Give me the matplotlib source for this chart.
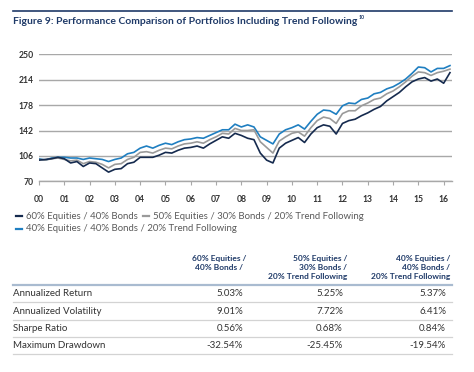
import matplotlib.pyplot as plt
from matplotlib.lines import Line2D

# quarterly points (decimal years)
years = [2000 + q * 0.25 for q in range(66)]

eq60_bd40 = [100, 101, 102, 104, 102, 96, 98, 91, 96, 95, 89, 83,
             87, 88, 95, 97, 104, 104, 104, 107, 111, 110, 114, 117,
             118, 120, 117, 123, 128, 133, 131, 138, 135, 131, 129, 110,
             100, 96, 117, 124, 128, 132, 125, 137, 146, 150, 148, 137,
             152, 156, 158, 163, 167, 172, 176, 184, 190, 196, 204, 211,
             215, 217, 212, 215, 209, 224]
eq50_bd30_tf20 = [101, 100, 102, 103, 101, 99, 100, 95, 98, 97, 94, 89,
                  94, 95, 101, 104, 111, 112, 110, 114, 117, 116, 120, 123,
                  124, 126, 124, 129, 133, 138, 137, 145, 142, 142, 143, 126,
                  118, 110, 127, 133, 138, 140, 134, 146, 156, 161, 159, 152,
                  166, 170, 170, 177, 181, 186, 188, 194, 198, 204, 211, 219,
                  225, 224, 220, 224, 226, 229]
eq40_bd40_tf20 = [102, 100, 103, 104, 104, 103, 103, 101, 103, 102, 101, 98,
                  101, 103, 109, 111, 117, 120, 117, 121, 124, 122, 126, 129,
                  130, 132, 131, 135, 139, 143, 143, 151, 147, 150, 147, 133,
                  128, 123, 137, 143, 146, 150, 144, 155, 165, 171, 170, 165,
                  177, 181, 180, 186, 188, 194, 196, 201, 204, 209, 215, 223,
                  232, 231, 225, 230, 230, 234]

series_names = ['60% Equities / 40% Bonds',
                '50% Equities / 30% Bonds / 20% Trend Following',
                '40% Equities / 40% Bonds / 20% Trend Following']
colors = ['#152a4e', '#9a9a9a', '#1f7fc1']

yticks = [70, 106, 142, 178, 214, 250]
xtick_years = list(range(2000, 2017))
xtick_labels = ['%02d' % (y % 100) for y in xtick_years]

row_labels = ['Annualized Return', 'Annualized Volatility', 'Sharpe Ratio', 'Maximum Drawdown']
col_headers = [['60% Equities /', '40% Bonds /'],
               ['50% Equities /', '30% Bonds /', '20% Trend Following'],
               ['40% Equities /', '40% Bonds /', '20% Trend Following']]
table_values = [['5.03%', '5.25%', '5.37%'],
                ['9.01%', '7.72%', '6.41%'],
                ['0.56%', '0.68%', '0.84%'],
                ['-32.54%', '-25.45%', '-19.54%']]

W, H = 474, 372
navy = '#1f3a68'
txt = '#333333'
plt.rcParams['font.family'] = ['Lato', 'DejaVu Sans']

fig = plt.figure(figsize=(W / 100, H / 100), dpi=100)

def fx(x):
    return x / W

def fy(y):
    return 1 - y / H

# top rule + title
fig.add_artist(Line2D([fx(13), fx(452)], [fy(11), fy(11)], color=navy, lw=1.2))
title = fig.text(fx(13), fy(21), 'Figure 9: Performance Comparison of Portfolios Including Trend Following',
                 color=navy, fontsize=7.5, fontweight='bold', va='center', ha='left')
r = fig.canvas.get_renderer()
bb = title.get_window_extent(renderer=r)
fig.text(bb.x1 / W + fx(1.5), fy(17.5), '10', color=navy, fontsize=3.8, fontweight='bold', va='center')

# chart
ax = fig.add_axes([fx(39), fy(181.3), fx(452) - fx(39), (181.3 - 54.3) / H])
for vals, c in zip([eq40_bd40_tf20, eq50_bd30_tf20, eq60_bd40], colors[::-1]):
    ax.plot(years, vals, color=c, lw=1.2, zorder=3)
ax.set_xlim(2000, 2016.33)
ax.set_ylim(70, 250)
ax.set_yticks(yticks)
ax.set_xticks(xtick_years)
ax.set_xticklabels(xtick_labels)
ax.grid(axis='y', color='#a8a8a8', lw=1)
ax.tick_params(axis='y', length=0, pad=4, labelsize=6.2, labelcolor=txt)
ax.tick_params(axis='x', length=3, width=0.8, color='#a8a8a8', pad=7, labelsize=6.2, labelcolor=txt)
for lab in ax.get_xticklabels() + ax.get_yticklabels():
    lab.set_fontweight('bold')
for s in ['top', 'right', 'left']:
    ax.spines[s].set_visible(False)
ax.spines['bottom'].set_color('#a8a8a8')
ax.spines['bottom'].set_linewidth(1)

# legend (manual)
leg_pos = [(16, 216), (143, 216), (16, 228.7)]
for (lx, ly), name, c in zip(leg_pos, series_names, colors):
    fig.add_artist(Line2D([fx(lx), fx(lx + 6)], [fy(ly), fy(ly)], color=c, lw=1.6))
    fig.text(fx(lx + 10), fy(ly), name, color='#5a5a5a', fontsize=6.9, va='center', ha='left')

# table
col_right = [247, 347, 450]
head_y = [259, 268, 277]
for j, lines in enumerate(col_headers):
    for k, line in enumerate(lines):
        if j == 0:
            fig.text(fx(219), fy(head_y[k]), line, color=navy, fontsize=6, fontweight='bold',
                     ha='center', va='center')
        else:
            fig.text(fx(col_right[j]), fy(head_y[k]), line, color=navy, fontsize=6, fontweight='bold',
                     ha='right', va='center')
fig.add_artist(Line2D([fx(13), fx(452)], [fy(285), fy(285)], color='#a9bbd0', lw=1.6))
row_y = [294, 311.7, 328.3, 345.3]
line_y = [302.3, 319.7, 336.7, 353.7]
for i, lab in enumerate(row_labels):
    fig.text(fx(13), fy(row_y[i]), lab, color=txt, fontsize=7, ha='left', va='center')
    for j, v in enumerate(table_values[i]):
        fig.text(fx(col_right[j] - 4), fy(row_y[i]), v, color=txt, fontsize=7, ha='right', va='center')
    fig.add_artist(Line2D([fx(13), fx(452)], [fy(line_y[i]), fy(line_y[i])], color='#d3d3d3', lw=0.9))

fig.savefig('out.png', dpi=100)
